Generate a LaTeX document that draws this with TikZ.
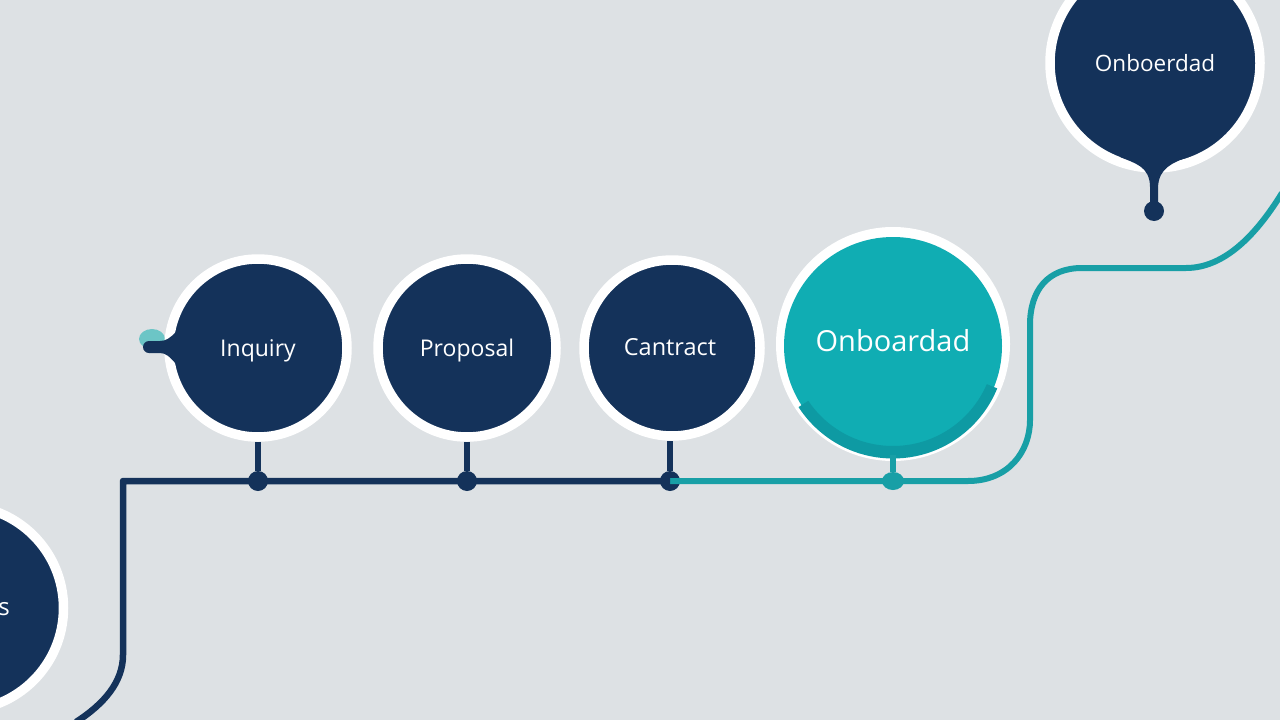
\documentclass[tikz,border=0pt]{standalone}
\usepackage{fontspec}
\setmainfont{Open Sans}
\definecolor{bgc}{HTML}{DDE1E4}
\definecolor{navy}{HTML}{14325A}
\definecolor{tealfill}{HTML}{10ADB3}
\definecolor{tealdark}{HTML}{0E9AA3}
\definecolor{tealline}{HTML}{189FA6}
\definecolor{tealsoft}{HTML}{6CC5C6}
\tikzset{
  ringnode/.style={circle,draw=white,fill=navy,line width=9.5pt,text=white,inner sep=0pt,font=\fontsize{23}{26}\selectfont},
  navyline/.style={draw=navy,line width=6.5pt,line join=round},
  tealpath/.style={draw=tealline,line width=6pt,line join=round},
  navydot/.style={circle,fill=navy,inner sep=0pt,minimum size=20pt},
  tealdot/.style={ellipse,fill=tealline,inner sep=0pt,minimum width=22pt,minimum height=18pt},
}
\usetikzlibrary{shapes.geometric}
\begin{document}
\begin{tikzpicture}[x=1pt,y=-1pt]
\fill[bgc] (0,0) rectangle (1280,720);
\useasboundingbox (0,0) rectangle (1280,720);
% junction coordinates
\node[navydot] (j1) at (258,481) {};
\node[navydot] (j2) at (467,481) {};
\node[navydot] (j3) at (670,481) {};
\node[tealdot] (j4) at (893,481) {};
\coordinate (corner) at (123,481);
\coordinate (bottomend) at (76,722);
\coordinate (rightend) at (1282,193);
% main lines
\draw[tealpath] (j3.center) -- (j4.center) -- (968,481)
  .. controls (1008,481) and (1030,452) .. (1030,420)
  -- (1030,325) .. controls (1030,290) and (1048,268) .. (1082,268)
  -- (1186,268) .. controls (1226,268) and (1258,232) .. (rightend);
\draw[navyline] (j3.center) -- (corner) -- (123,655)
  .. controls (123,682) and (104,704) .. (bottomend);
% teal blob behind the inquiry nub
\fill[tealsoft] (152,339) ellipse[x radius=13pt,y radius=10pt];
% circles
\node[ringnode,minimum size=205pt] (left) at (-39,608) {};
\node[anchor=center,text=white,font=\fontsize{24}{26}\selectfont] (lefttext) at (4,609) {s};
\node[ringnode,minimum size=178pt] (inquiry) at (258,348) {\raisebox{-8pt}[0pt][0pt]{Inquiry}};
\node[ringnode,minimum size=178pt] (proposal) at (467,348) {\raisebox{-8pt}[0pt][0pt]{Proposal}};
\node[ringnode,minimum size=176pt] (contract) at (672,348) {};
\node[text=white,font=\fontsize{23.5}{26}\selectfont] (contracttext) at (670,347) {Cantract};
\node[ringnode,minimum size=210pt] (top) at (1155,63) {};
\node[text=white,font=\fontsize{22.5}{26}\selectfont] (toptext) at (1155,63) {Onboerdad};
\node[circle,fill=white,draw=none,inner sep=0pt,minimum size=234pt] (onring) at (893,344) {};
\node[circle,fill=tealfill,inner sep=0pt,minimum size=218pt] (onboard) at (893,346) {};
\begin{scope}
  \clip (893,346) -- (1043,407) -- (1043,600) -- (743,600) -- (743,443) -- cycle;
  \fill[tealdark,even odd rule] (893,346) circle[radius=112.5pt] (893,344) circle[radius=102pt];
\end{scope}
\node[text=white,font=\fontsize{29}{32}\selectfont] (ontext) at (893,341) {Onboardad};
% stems
\draw[navyline] (inquiry.south) -- (j1);
\draw[navyline] (proposal.south) -- (j2);
\draw[navyline] (670,441) -- (j3);
\draw[tealpath] (onboard.south) -- (j4);
% inquiry nub
\node[circle,fill=navy,inner sep=0pt,minimum size=12pt] (nub) at (149,347) {};
\fill[navy] (149,341) -- (160,341) .. controls (166,341) and (170,338) .. (176,332)
  -- (176,364) .. controls (170,357) and (166,353) .. (160,353) -- (149,353) -- cycle;
% top drop
\node[navydot] (topdot) at (1154,211) {};
\fill[navy] (1120,157) .. controls (1134,163) and (1150,166) .. (1150,187)
  -- (1150,205) -- (1158,205) -- (1158,187)
  .. controls (1159,168) and (1172,163) .. (1190,156) -- cycle;
\end{tikzpicture}
\end{document}
